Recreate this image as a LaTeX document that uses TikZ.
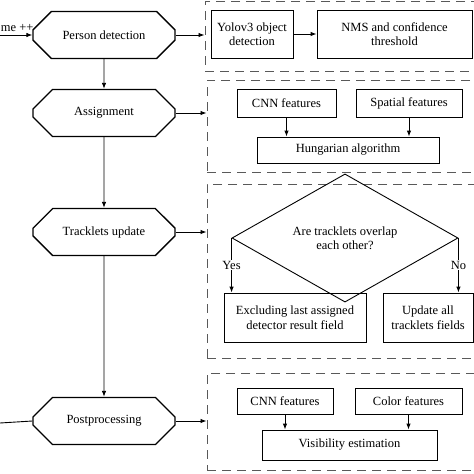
\documentclass[tikz,border=0pt]{standalone}
\usepackage{fontspec}
\setmainfont{Liberation Serif}
\usetikzlibrary{shapes.misc,shapes.geometric,arrows.meta}

\tikzset{every picture/.style={line width=0.75pt}}
\tikzset{
  stage/.style={chamfered rectangle, chamfered rectangle xsep=19pt, chamfered rectangle ysep=14pt,
    draw, line width=1.3pt, minimum width=142pt, minimum height=47pt, inner sep=0pt,
    font=\rmfamily\fontsize{12.5}{14}\selectfont},
  stepbox/.style={draw, rectangle, align=center, inner sep=0pt, line width=0.9pt,
    font=\rmfamily\fontsize{12.5}{14.5}\selectfont},
  frame/.style={draw, rectangle, dash pattern=on 9pt off 6pt, line width=1pt, color=black!65, inner sep=0pt},
  flow/.style={-{Latex[length=6pt,width=4.5pt]}, line width=0.9pt},
  branch/.style={fill=white, inner sep=1pt, font=\rmfamily\fontsize{12.5}{14}\selectfont}
}

\begin{document}
\begin{tikzpicture}[x=1pt,y=1pt,yscale=-1,xscale=1]
	\clip (0,0) rectangle (474,474);
	\fill[white] (0,0) rectangle (474,474);

	% Stages
	\node[stage] (det) at (104,35) {Person detection};
	\node[stage] (assign) at (104,113) {Assignment};
	\node[stage] (track) at (104,232) {Tracklets update};
	\node[stage] (post) at (104,421) {Postprocessing};

	% Frames
	\node[frame, minimum width=275pt, minimum height=70pt] (frameA) at (342.5,36) {};
	\node[frame, minimum width=273pt, minimum height=92pt] (frameB) at (343.5,126) {};
	\node[frame, minimum width=273pt, minimum height=174pt] (frameC) at (343.5,271) {};
	\node[frame, minimum width=273pt, minimum height=97pt] (frameD) at (343.5,421.5) {};

	% Person detection
	\node[stepbox, minimum width=82pt, minimum height=48pt] (yolo) at (252,34) {Yolov3 object\\detection};
	\node[stepbox, minimum width=155pt, minimum height=48pt] (nms) at (394.5,34) {NMS and confidence\\threshold};

	% Assignment
	\node[stepbox, minimum width=99pt, minimum height=28pt] (cnnA) at (286.5,103) {CNN features};
	\node[stepbox, minimum width=106pt, minimum height=28pt] (spatial) at (409,103) {Spatial features};
	\node[stepbox, minimum width=182pt, minimum height=26pt] (hung) at (348,150) {Hungarian algorithm};

	% Tracklets update
	\node[draw, diamond, line width=0.9pt, minimum width=226pt, minimum height=81pt, inner sep=0pt, align=center,
	  font=\rmfamily\fontsize{12.5}{14.5}\selectfont] (overlap) at (345,238) {Are tracklets overlap\\each other?};
	\node[stepbox, minimum width=142pt, minimum height=49pt] (excl) at (295,317.5) {Excluding last assigned\\detector result field};
	\node[stepbox, minimum width=90pt, minimum height=49pt] (upd) at (428,317.5) {Update all\\tracklets fields};

	% Postprocessing
	\node[stepbox, minimum width=96pt, minimum height=26pt] (cnnB) at (285,401) {CNN features};
	\node[stepbox, minimum width=107pt, minimum height=26pt] (color) at (408.5,401) {Color features};
	\node[stepbox, minimum width=175pt, minimum height=30pt] (vis) at (349.5,445) {Visibility estimation};

	% Text Node
	\coordinate (start) at (0,35);
	\node[anchor=south west, inner sep=0pt, font=\rmfamily\fontsize{12.5}{14}\selectfont] (frameno) at (0.5,32) {me ++};
	\coordinate (loop) at (0,423);

	% Connectors
	\draw[flow] (start) -- (det.west);
	\draw[flow] (det) -- (assign);
	\draw[flow] (assign) -- (track);
	\draw[flow] (track) -- (post);
	\draw[line width=0.9pt] (post.west) -- (loop);

	\draw[flow] (det.east) -- (det -| frameA.west);
	\draw[flow] (assign.east) -- (assign -| frameB.west);
	\draw[flow] (track.east) -- (track -| frameC.west);
	\draw[flow] (post.east) -- (post -| frameD.west);

	\draw[flow] (yolo) -- (nms);
	\draw[flow] (cnnA) -- (cnnA |- hung.north);
	\draw[flow] (spatial) -- (spatial |- hung.north);
	\draw[flow] (overlap.west) -- (overlap.west |- excl.north) node[branch, pos=0.5] {Yes};
	\draw[flow] (overlap.east) -- (overlap.east |- upd.north) node[branch, pos=0.5] {No};
	\draw[flow] (cnnB) -- (cnnB |- vis.north);
	\draw[flow] (color) -- (color |- vis.north);

\end{tikzpicture}
\end{document}
